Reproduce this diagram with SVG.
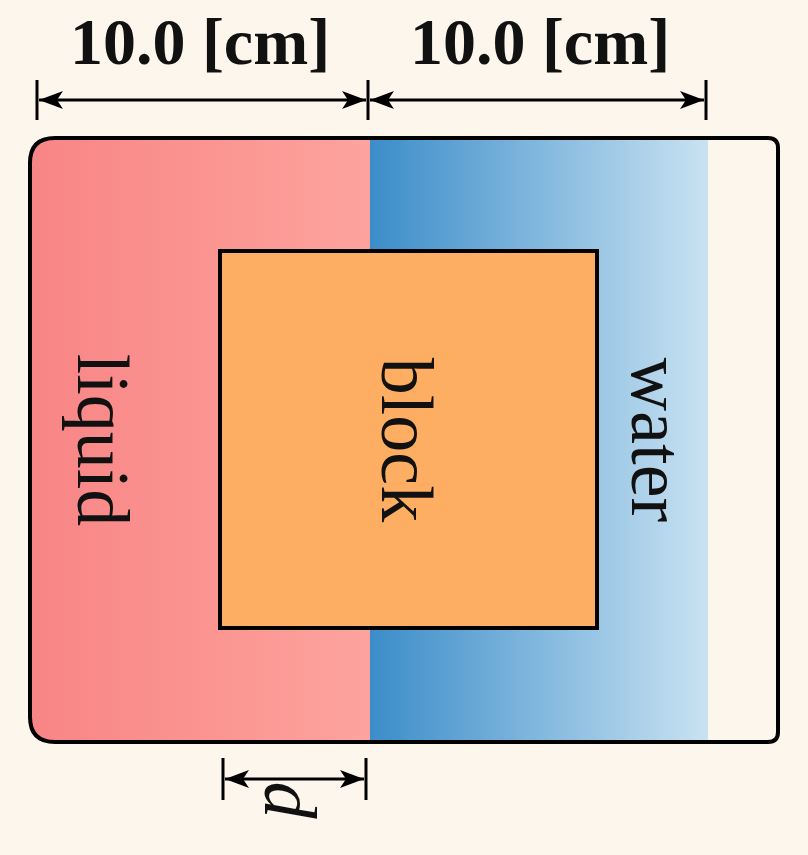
<svg xmlns="http://www.w3.org/2000/svg" width="808" height="855" viewBox="0 0 808 855">
<defs>
<linearGradient id="red" x1="0" x2="1" y1="0" y2="0"><stop offset="0" stop-color="#f88585"/><stop offset="1" stop-color="#fda39d"/></linearGradient>
<linearGradient id="blue" x1="0" x2="1" y1="0" y2="0"><stop offset="0" stop-color="#3b8dc9"/><stop offset="1" stop-color="#c9e2f2"/></linearGradient>
<marker id="ah" viewBox="0 0 10 10" refX="10" refY="5" markerWidth="24" markerHeight="18" orient="auto-start-reverse" markerUnits="userSpaceOnUse" preserveAspectRatio="none"><path d="M0,0 L10,5 L0,10 L2.5,5 z" fill="#000"/></marker>
<clipPath id="box"><path d="M55,138 H768 Q778,138 778,148 V732 Q778,742 768,742 H55 Q30,742 30,717 V163 Q30,138 55,138 Z"/></clipPath>
</defs>
<style>
.lbl{font-family:"Liberation Serif",serif;font-size:74px;fill:#111}
.dim{font-family:"Liberation Serif",serif;font-size:66px;font-weight:bold;fill:#111}
.ln{stroke:#000;stroke-width:3;fill:none}
</style>
<rect width="808" height="855" fill="#fdf6ec"/>
<g clip-path="url(#box)">
<rect x="30" y="138" width="340" height="604" fill="url(#red)"/>
<rect x="370" y="138" width="338" height="604" fill="url(#blue)"/>
</g>
<path d="M55,138 H768 Q778,138 778,148 V732 Q778,742 768,742 H55 Q30,742 30,717 V163 Q30,138 55,138 Z" fill="none" stroke="#000" stroke-width="4"/>
<g id="block"><rect x="220" y="251" width="377" height="377" fill="#fdae62" stroke="#000" stroke-width="4"/>
<text class="lbl" transform="translate(382,440) rotate(90)" text-anchor="middle">block</text></g>
<g id="liquid"><text class="lbl" transform="translate(78,440) rotate(90)" text-anchor="middle">liquid</text></g>
<g id="water"><text class="lbl" transform="translate(632,440) rotate(90)" text-anchor="middle">water</text></g>
<g id="dims">
<text class="dim" x="200" y="64" text-anchor="middle">10.0 [cm]</text>
<text class="dim" x="540" y="64" text-anchor="middle">10.0 [cm]</text>
<line class="ln" x1="37" y1="80" x2="37" y2="120"/>
<line class="ln" x1="368" y1="80" x2="368" y2="120"/>
<line class="ln" x1="706" y1="80" x2="706" y2="120"/>
<line class="ln" x1="39" y1="100" x2="366" y2="100" marker-start="url(#ah)" marker-end="url(#ah)"/>
<line class="ln" x1="370" y1="100" x2="704" y2="100" marker-start="url(#ah)" marker-end="url(#ah)"/>
<line class="ln" x1="223" y1="758" x2="223" y2="800"/>
<line class="ln" x1="366" y1="758" x2="366" y2="800"/>
<line class="ln" x1="225" y1="779" x2="364" y2="779" marker-start="url(#ah)" marker-end="url(#ah)"/>
<text class="lbl" font-style="italic" transform="translate(265,800) rotate(90)" text-anchor="middle">d</text>
</g>
</svg>
